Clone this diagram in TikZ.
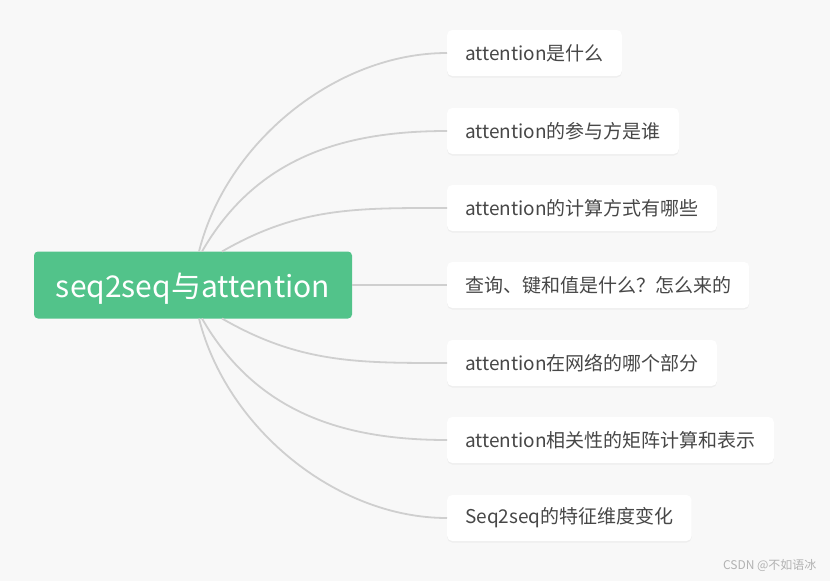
\documentclass[tikz,border=0pt]{standalone}
\usepackage{fontspec}
\setmainfont{Noto Sans CJK SC}
\usetikzlibrary{positioning, shadows}
\definecolor{rootgreen}{HTML}{52C38A}
\definecolor{linegray}{HTML}{CFCFCF}
\definecolor{textgray}{HTML}{474747}
\definecolor{paper}{HTML}{F8F8F8}

\begin{document}
\begin{tikzpicture}[
    % GLOBAL CFG
    x=1pt, y=-1pt,
    % Styles
    root/.style={% For central topic
        rectangle,
        rounded corners=4pt,
        fill=rootgreen,
        text=white,
        minimum width=318pt,
        minimum height=67pt,
        inner sep=0pt,
        text depth=0pt,
        font=\fontsize{30}{32}\selectfont,
    },
    topic/.style={% For sub topics
        rectangle,
        rounded corners=5pt,
        fill=white,
        text=textgray,
        anchor=west,
        minimum height=46pt,
        inner xsep=18pt,
        inner ysep=0pt,
        font=\fontsize{19}{21}\selectfont,
        drop shadow={shadow xshift=0pt, shadow yshift=-1.5pt, opacity=0.08},
    },
    branch/.style={% Curved links
        draw=linegray,
        line width=1.8pt,
    },
    credittext/.style={
        text=black!30,
        font=\fontsize{12}{14}\selectfont
    },
    ]
    % Paper
    \fill [paper] (0,0) rectangle (830,581);

    % Coordinates on the root border
    \coordinate (join1) at (199,251.5);
    \coordinate (join2) at (202,251.5);
    \coordinate (join3) at (222,251.5);
    \coordinate (join5) at (222,318.5);
    \coordinate (join6) at (202,318.5);
    \coordinate (join7) at (199,318.5);

    % Draw root
    \node [root] (root) at (193,285) {seq2seq与attention};

    % Draw topics named sub#
    \node [topic] (sub1) at (447,53) {attention是什么};
    \node [topic] (sub2) at (447,131) {attention的参与方是谁};
    \node [topic] (sub3) at (447,208) {attention的计算方式有哪些};
    \node [topic] (sub4) at (447,285) {查询、键和值是什么？怎么来的};
    \node [topic] (sub5) at (447,363) {attention在网络的哪个部分};
    \node [topic] (sub6) at (447,440) {attention相关性的矩阵计算和表示};
    \node [topic] (sub7) at (447,518) {Seq2seq的特征维度变化};

    % Connect all
    \draw [branch] (join1) to[out=76, in=180, looseness=0.9] (sub1.west);
    \draw [branch] (join2) to[out=60, in=180] (sub2.west);
    \draw [branch] (join3) to[out=30, in=180] (sub3.west);
    \draw [branch] (root.east) -- (sub4.west);
    \draw [branch] (join5) to[out=-30, in=180] (sub5.west);
    \draw [branch] (join6) to[out=-60, in=180] (sub6.west);
    \draw [branch] (join7) to[out=-76, in=180, looseness=0.9] (sub7.west);

    % Watermark
    \node [credittext, anchor=east] (credit) at (820,565) {CSDN @不如语冰};

\end{tikzpicture}
\end{document}
